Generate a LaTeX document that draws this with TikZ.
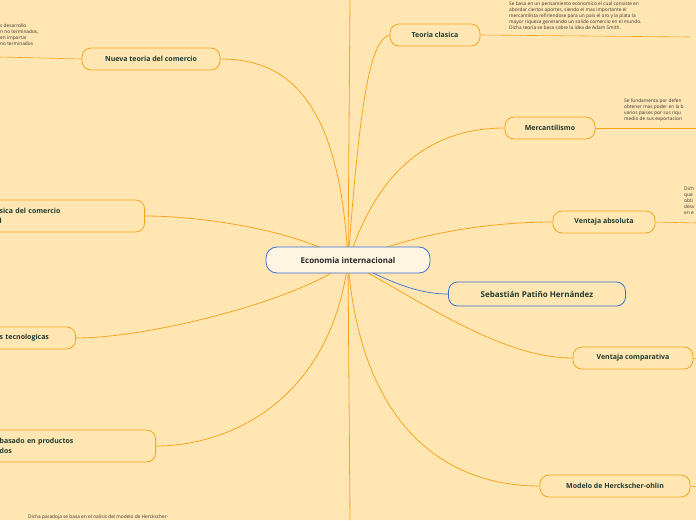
\documentclass[tikz,border=0pt]{standalone}
\usepackage{fontspec}
\setmainfont{Open Sans}
\usetikzlibrary{backgrounds}
\definecolor{bg}{HTML}{FFE6B3}
\definecolor{br}{HTML}{F7A51E}
\definecolor{tx}{HTML}{1F3B2F}
\definecolor{bl}{HTML}{3B6FD4}
\begin{document}
\begin{tikzpicture}[x=1pt,y=-1pt,
 topic/.style={draw=br,line width=0.8pt,rounded corners=9pt,fill=bg,font=\fontsize{7}{9.5}\selectfont\bfseries,text=tx,inner sep=0pt,minimum height=22pt,align=left},
 cen/.style={draw=bl,line width=0.8pt,rounded corners=11pt,fill=white!60!bg,font=\fontsize{8}{9}\selectfont\bfseries,text=black!85,inner sep=0pt,minimum height=26pt,minimum width=164pt},
 desc/.style={font=\fontsize{4.8}{5.8}\selectfont,text=black!80,align=left,inner sep=0pt,anchor=north west},
 con/.style={draw=br,line width=0.8pt},
 uline/.style={draw=br,line width=0.6pt}]
\useasboundingbox (0,0) rectangle (696,520);
\node[cen] (c) at (348,260) {Economia internacional};
% right nodes
\node[topic,minimum width=90pt] (t1) at (435,35) {Teoria clasica};
\node[topic,minimum width=90pt] (t2) at (550,128) {Mercantilismo};
\node[topic,minimum width=102pt] (t3) at (604,222) {Ventaja absoluta};
\node[topic,draw=bl,minimum width=177pt,minimum height=24pt,font=\fontsize{8}{9}\selectfont\bfseries] (t4) at (537,294) {Sebastián Patiño Hernández};
\node[topic,minimum width=120pt] (t5) at (633,358) {Ventaja comparativa};
\node[topic,minimum width=150pt] (t6) at (615,486) {Modelo de Herckscher-ohlin};
% left nodes
\node[topic,minimum width=138pt] (l1) at (151,59) {Nueva teoria del comercio};
\node[topic,anchor=east,inner xsep=12pt,text width=133pt,minimum height=32pt] (l2) at (145,216) {sica del comercio\\l};
\node[topic,anchor=east,inner xsep=12pt,text width=64pt] (l3) at (76,338) {s tecnologicas};
\node[topic,anchor=east,inner xsep=12pt,text width=144pt,minimum height=32pt] (l4) at (156,446) {basado en productos\\dos};
% descriptions
\node[desc] (d1) at (509,2) {Se basa en un pensamiento economico el cual consiste en\\abordar ciertos aportes, siendo el mas importante el\\mercantilista refiriendose para un pais el oro y la plata la\\mayor riqueza generando un solido comercio en el mundo.\\Dicha teoria se basa sobre la idea de Adam Smith.};
\node[desc] (d2) at (624,99) {Se fundamenta por defen\\obtener mas poder en la b\\varios paises por sus riqu\\medio de sus exportacion};
\node[desc] (d3) at (684,187) {Dich\\que\\obti\\desv\\en e};
\node[desc] (d0) at (0,24) {s desarrollo\\n no terminados,\\en importar\\ no terminados};
\node[desc] (d7) at (28,515) {Dicha paradoja se basa en el nalisis del modelo de Herckscher-};
\begin{scope}[on background layer]
\fill[bg] (0,0) rectangle (696,520);
\coordinate (tp) at (350,0);
\coordinate (bt) at (350,520);
\coordinate (cc) at (348,262);
\draw[con] (cc) -- (tp);
\draw[con] (cc) -- (bt);
\draw[con] (cc) .. controls (360,100) and (370,40) .. (t1.west);
\draw[con] (cc) .. controls (380,160) and (440,128) .. (t2.west);
\draw[con] (cc) .. controls (420,230) and (500,222) .. (t3.west);
\draw[bl,line width=0.7pt] (cc) .. controls (380,275) and (410,294) .. (t4.west);
\draw[con] (cc) .. controls (420,300) and (500,358) .. (t5.west);
\draw[con] (cc) .. controls (360,420) and (440,486) .. (t6.west);
\draw[con] (cc) .. controls (340,90) and (280,59) .. (l1.east);
\draw[con] (cc) .. controls (300,230) and (200,216) .. (l2.east);
\draw[con] (cc) .. controls (300,300) and (150,338) .. (l3.east);
\draw[con] (cc) .. controls (330,400) and (230,446) .. (l4.east);
\coordinate (e1) at (690,37);
\coordinate (e2) at (696,128);
\coordinate (e3) at (696,223);
\coordinate (e5) at (696,359);
\coordinate (e6) at (696,487);
\coordinate (e0) at (0,57);
\draw[uline] (t1.east) -- (e1);
\draw[uline] (t2.east) -- (e2);
\draw[uline] (t3.east) -- (e3);
\draw[uline] (t5.east) -- (e5);
\draw[uline] (t6.east) -- (e6);
\draw[uline] (l1.west) -- (e0);
\end{scope}
\end{tikzpicture}
\end{document}
